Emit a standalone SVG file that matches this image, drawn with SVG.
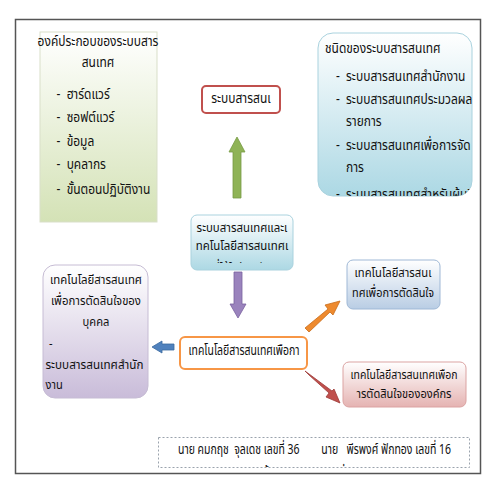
<svg xmlns="http://www.w3.org/2000/svg" width="495" height="495" viewBox="0 0 495 495">
<style>
text{font-family:"Noto Sans Thai","Noto Sans","DejaVu Sans",sans-serif;font-size:14px;fill:#111;transform:scale(0.857,1)}
.c{text-anchor:middle}
.s{font-size:13px}
</style>
<defs>
<linearGradient id="gG" x1="0" y1="0" x2="0" y2="1"><stop offset="0" stop-color="#ffffff"/><stop offset="1" stop-color="#d4e2b6"/></linearGradient>
<linearGradient id="gB" x1="0" y1="0" x2="0" y2="1"><stop offset="0" stop-color="#ffffff"/><stop offset="1" stop-color="#acd8e4"/></linearGradient>
<linearGradient id="gP" x1="0" y1="0" x2="0" y2="1"><stop offset="0" stop-color="#ffffff"/><stop offset="1" stop-color="#c9bcd9"/></linearGradient>
<linearGradient id="gR" x1="0" y1="0" x2="0" y2="1"><stop offset="0" stop-color="#ffffff"/><stop offset="1" stop-color="#e5b3b2"/></linearGradient>
<linearGradient id="gB2" x1="0" y1="0" x2="0" y2="1"><stop offset="0" stop-color="#ffffff"/><stop offset="1" stop-color="#b9cde4"/></linearGradient>
<clipPath id="cB"><rect x="318" y="33" width="154" height="163" rx="15"/></clipPath>
<clipPath id="cC"><rect x="191" y="215" width="102" height="48"/></clipPath>
<clipPath id="cD"><rect x="158" y="437" width="312" height="30"/></clipPath>
</defs>
<rect x="0" y="0" width="495" height="495" fill="#fff"/>
<rect x="15.5" y="19.5" width="465" height="454" fill="#fff" stroke="#555" stroke-width="1.5"/>

<g id="components">
<rect x="40" y="32" width="117" height="190" fill="url(#gG)" stroke="#d9dfc9" stroke-width="1"/>
<text class="c" x="114.4" y="46">องค์ประกอบของระบบสาร</text>
<text class="c" x="114.4" y="67">สนเทศ</text>
<text x="66" y="99" xml:space="preserve">-  ฮาร์ดแวร์</text>
<text x="66" y="122" xml:space="preserve">-  ซอฟต์แวร์</text>
<text x="66" y="146" xml:space="preserve">-  ข้อมูล</text>
<text x="66" y="169" xml:space="preserve">-  บุคลากร</text>
<text x="66" y="194" xml:space="preserve">-  ขั้นตอนปฏิบัติงาน</text>
</g>

<g id="types">
<rect x="318" y="33" width="154" height="163" rx="15" fill="url(#gB)" stroke="#a9d2de" stroke-width="1"/>
<g clip-path="url(#cB)">
<text x="379.2" y="53">ชนิดของระบบสารสนเทศ</text>
<text x="392" y="81" xml:space="preserve">-  ระบบสารสนเทศสำนักงาน</text>
<text x="392" y="104" xml:space="preserve">-  ระบบสารสนเทศประมวลผล</text>
<text x="403.7" y="126">รายการ</text>
<text x="392" y="150" xml:space="preserve">-  ระบบสารสนเทศเพื่อการจัด</text>
<text x="403.7" y="172">การ</text>
<text x="392" y="199" xml:space="preserve">-  ระบบสารสนเทศสำหรับผู้บริหาร</text>
</g>
</g>

<g id="is">
<rect x="202" y="86" width="78" height="27" rx="4" fill="#fff" stroke="#c0504d" stroke-width="2"/>
<text class="c" x="281.2" y="103">ระบบสารสนเ</text>
</g>

<g id="center">
<rect x="191" y="215" width="102" height="55" rx="6" fill="url(#gB)" stroke="#a9d2de" stroke-width="1"/>
<g clip-path="url(#cC)">
<text class="c s" x="282.4" y="232" textLength="106" lengthAdjust="spacingAndGlyphs">ระบบสารสนเทศและเ</text>
<text class="c s" x="282.4" y="250" textLength="108" lengthAdjust="spacingAndGlyphs">ทคโนโลยีสารสนเทศเ</text>
<text class="c s" x="282.4" y="272">ที่ใช้ในปัจจุบัน</text>
</g>
</g>

<g id="dss">
<rect x="180" y="337" width="127" height="32" rx="5" fill="#fff" stroke="#f79646" stroke-width="2"/>
<text class="c" x="284.7" y="355" textLength="129.5" lengthAdjust="spacingAndGlyphs">เทคโนโลยีสารสนเทศเพือกา</text>
</g>

<g id="personal">
<rect x="43" y="265" width="105" height="133" rx="12" fill="url(#gP)" stroke="#c6bcd4" stroke-width="1"/>
<text class="c s" x="112" y="284" textLength="107.4" lengthAdjust="spacingAndGlyphs">เทคโนโลยีสารสนเทศ</text>
<text class="c s" x="112" y="305" textLength="105" lengthAdjust="spacingAndGlyphs">เพื่อการตัดสินใจของ</text>
<text class="c s" x="112" y="326">บุคคล</text>
<text class="s" x="57.2" y="348">-</text>
<text class="s" x="53" y="369" textLength="114.4" lengthAdjust="spacingAndGlyphs">ระบบสารสนเทศสำนัก</text>
<text class="s" x="53" y="389">งาน</text>
</g>

<g id="decision">
<rect x="347" y="260" width="93" height="49" rx="6" fill="url(#gB2)" stroke="#9fb8d6" stroke-width="1"/>
<text class="c s" x="458.6" y="277" textLength="89.8" lengthAdjust="spacingAndGlyphs">เทคโนโลยีสารสนเ</text>
<text class="c s" x="458.6" y="297" textLength="95.7" lengthAdjust="spacingAndGlyphs">ทศเพื่อการตัดสินใจ</text>
</g>

<g id="org">
<rect x="343" y="362" width="123" height="45" rx="6" fill="url(#gR)" stroke="#dba3a2" stroke-width="1"/>
<text class="c s" x="471.4" y="379" textLength="124.9" lengthAdjust="spacingAndGlyphs">เทคโนโลยีสารสนเทศเพือก</text>
<text class="c s" x="471.4" y="398" textLength="110.9" lengthAdjust="spacingAndGlyphs">ารตัดสินใจขององค์กร</text>
</g>

<g id="authors">
<rect x="158.5" y="437.5" width="311" height="30" fill="none" stroke="#9aa3ad" stroke-width="1" stroke-dasharray="2,2"/>
<g clip-path="url(#cD)">
<text x="207.7" y="454" xml:space="preserve" textLength="318.6" lengthAdjust="spacingAndGlyphs">นาย คมกฤช  จุลเดช เลขที่ 36        นาย   พีรพงศ์ ฟักทอง เลขที่ 16</text>
<text class="c" x="366.4" y="478">ชั้นมัธยมศึกษาปีที่ 6/1</text>
</g>
</g>

<g id="connectors">
<polygon points="233,198 241,198 241,152 245,152 237,137 229,152 233,152" fill="#8fb356" stroke="#779a44" stroke-width="0.8"/>
<polygon points="234,272 242,272 242,304 246,304 238,318 230,304 234,304" fill="#9a83bd" stroke="#7a62a0" stroke-width="0.8"/>
<polygon points="174,344 162,344 162,341 152,347 162,353 162,350 174,350" fill="#4f81bd" stroke="#3b6aa0" stroke-width="0.8"/>
<polygon points="305,328 328,309 325,305 340,301 333,315 330,312 309,332" fill="#ee8a2e" stroke="#c86c1a" stroke-width="0.8"/>
<polygon points="309,375 329,393 326,397 340,403 334,389 332,391 305,371" fill="#c0504d" stroke="#9d3b38" stroke-width="0.8"/>
</g>
</svg>
